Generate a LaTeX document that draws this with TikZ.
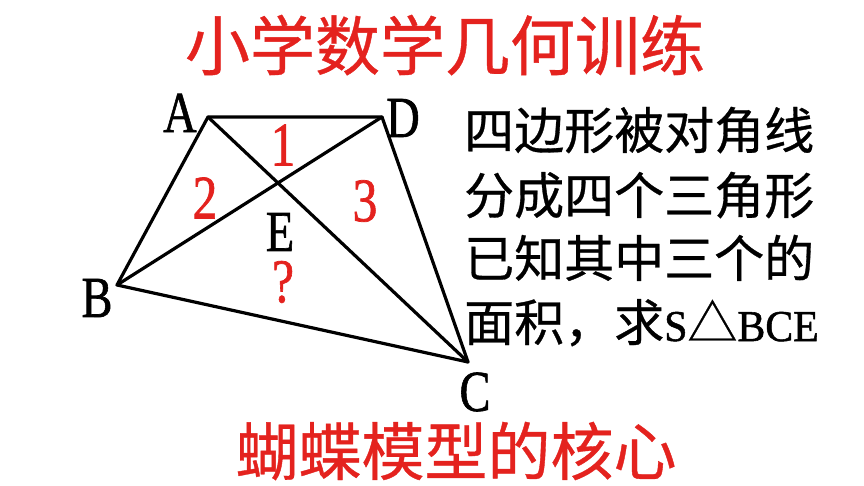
\documentclass[tikz,border=0pt]{standalone}
\usepackage{fontspec}
\usepackage{graphicx}
\setmainfont{Liberation Serif}
\newfontfamily\latb[FakeBold=1.2]{Liberation Serif}
\newfontfamily\cjk{Noto Sans CJK SC}
\newfontfamily\cjkb[FakeBold=0.6]{Noto Sans CJK SC}
\definecolor{titlered}{RGB}{228,34,30}
\tikzset{
  edge/.style={line width=3.2pt, line join=round, line cap=round},
  ptlabel/.style={inner sep=0pt, font=\latb\fontsize{58}{60}\selectfont},
  numlabel/.style={inner sep=0pt, text=titlered, font=\latb\fontsize{62}{64}\selectfont},
  cjktitle/.style={inner sep=0pt, anchor=base, text=titlered},
  cjkline/.style={inner sep=0pt, anchor=base west, font=\cjkb\fontsize{50}{52}\selectfont}
}
\newcommand{\nar}[1]{\scalebox{0.8}[1]{#1}}
\begin{document}
\begin{tikzpicture}[x=1pt,y=-1pt]
\useasboundingbox (0,0) rectangle (864,486);
\fill[white] (0,0) rectangle (864,486);
% vertices
\coordinate (A) at (208,117);
\coordinate (D) at (382,117);
\coordinate (B) at (117,285);
\coordinate (C) at (468,362);
\coordinate (E) at (intersection of A--C and B--D);
% quadrilateral and diagonals
\draw[edge] (A) -- (D) -- (C) -- (B) -- cycle;
\draw[edge] (A) -- (C);
\draw[edge] (B) -- (D);
% vertex labels
\node[ptlabel] (lA) at (180,113) {\nar{A}};
\node[ptlabel] (lD) at (403,118) {\nar{D}};
\node[ptlabel] (lB) at (97,298) {\nar{B}};
\node[ptlabel] (lC) at (475,392) {\nar{C}};
\node[ptlabel] (lE) at (280,232) {\nar{E}};
% region labels
\node[numlabel] (n1) at (283,145) {\nar{1}};
\node[numlabel] (n2) at (205,198) {\nar{2}};
\node[numlabel] (n3) at (365,201) {\nar{3}};
\node[numlabel] (nq) at (283,282) {\nar{?}};
% titles
\node[cjktitle, font=\cjkb\fontsize{65}{68}\selectfont] (title) at (445,70) {小学数学几何训练};
\node[cjktitle, font=\cjkb\fontsize{63}{66}\selectfont] (bottom) at (456,475) {蝴蝶模型的核心};
% right text
\node[cjkline] (t1) at (464,149) {四边形被对角线};
\node[cjkline] (t2) at (464,214) {分成四个三角形};
\node[cjkline] (t3) at (464,277) {已知其中三个的};
\node[cjkline] (t4) at (464,341) {面积，求{\latb\fontsize{44}{46}\selectfont\scalebox{0.95}[1]{S}}△{\latb\fontsize{44}{46}\selectfont\scalebox{0.95}[1]{BCE}}};
\end{tikzpicture}
\end{document}
